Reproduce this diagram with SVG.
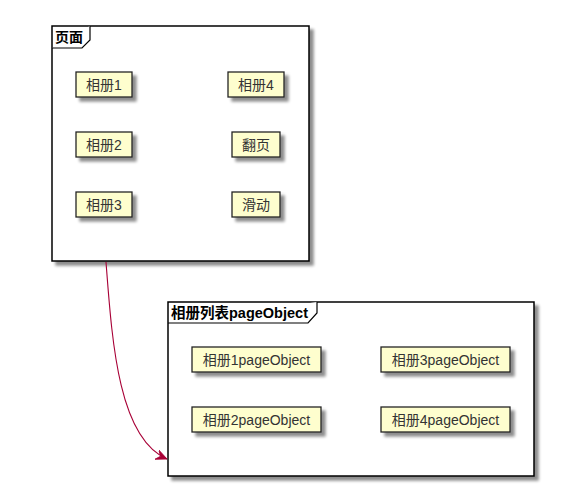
<svg xmlns="http://www.w3.org/2000/svg" width="572" height="498" viewBox="0 0 572 498">
<defs>
<filter id="sh" x="-10%" y="-10%" width="130%" height="140%">
<feGaussianBlur in="SourceAlpha" stdDeviation="1.6"/>
<feOffset dx="3.5" dy="3.5" result="b"/>
<feComponentTransfer><feFuncA type="linear" slope="0.45"/></feComponentTransfer>
<feMerge><feMergeNode/><feMergeNode in="SourceGraphic"/></feMerge>
</filter>
<marker id="arr" viewBox="0 0 12 10" refX="11" refY="5" markerWidth="12" markerHeight="10" markerUnits="userSpaceOnUse" orient="auto">
<path d="M0,0 L11,5 L0,10 L4,5 Z" fill="#A80036" stroke="#A80036" stroke-width="0.8"/>
</marker>
</defs>
<style>
.frame{fill:#ffffff;stroke:#000;stroke-width:1.5;}
.tab{fill:#ffffff;stroke:#000;stroke-width:1.2;}
.node{fill:#FEFECE;stroke:#222;stroke-width:1.3;}
.ttl{font-family:"Liberation Sans","Noto Sans CJK SC",sans-serif;font-size:14px;font-weight:bold;fill:#000;}
.lbl{font-family:"Liberation Sans","Noto Sans CJK SC",sans-serif;font-size:14px;fill:#333;text-anchor:middle;}
.edge{fill:none;stroke:#A80036;stroke-width:1.1;}
</style>
<rect width="572" height="498" fill="#ffffff"/>

<g id="frame-page">
<rect class="frame" x="52" y="26" width="257" height="235" filter="url(#sh)"/>
<path class="tab" d="M52,48 L82,48 L90,40 L90,26"/>
<text class="ttl" x="55" y="42">页面</text>
</g>

<g id="frame-list">
<rect class="frame" x="168" y="302" width="366" height="174" filter="url(#sh)"/>
<path class="tab" d="M168,323 L308,323 L317,313 L317,302"/>
<text class="ttl" x="171" y="318" style="font-size:14.5px">相册列表pageObject</text>
</g>

<g id="n-album1"><rect class="node" x="76" y="72" width="56" height="25" filter="url(#sh)"/><text class="lbl" x="104" y="89.5">相册1</text></g>
<g id="n-album4"><rect class="node" x="228" y="72" width="56" height="25" filter="url(#sh)"/><text class="lbl" x="256" y="89.5">相册4</text></g>
<g id="n-album2"><rect class="node" x="76" y="132" width="56" height="25" filter="url(#sh)"/><text class="lbl" x="104" y="149.5">相册2</text></g>
<g id="n-flip"><rect class="node" x="232" y="132" width="48" height="25" filter="url(#sh)"/><text class="lbl" x="256" y="149.5">翻页</text></g>
<g id="n-album3"><rect class="node" x="76" y="192" width="56" height="25" filter="url(#sh)"/><text class="lbl" x="104" y="209.5">相册3</text></g>
<g id="n-slide"><rect class="node" x="232" y="192" width="48" height="25" filter="url(#sh)"/><text class="lbl" x="256" y="209.5">滑动</text></g>

<g id="n-po1"><rect class="node" x="192" y="347" width="129" height="25" filter="url(#sh)"/><text class="lbl" x="256.5" y="364.5">相册1pageObject</text></g>
<g id="n-po3"><rect class="node" x="381" y="347" width="129" height="25" filter="url(#sh)"/><text class="lbl" x="445.5" y="364.5">相册3pageObject</text></g>
<g id="n-po2"><rect class="node" x="192" y="407" width="129" height="25" filter="url(#sh)"/><text class="lbl" x="256.5" y="424.5">相册2pageObject</text></g>
<g id="n-po4"><rect class="node" x="381" y="407" width="129" height="25" filter="url(#sh)"/><text class="lbl" x="445.5" y="424.5">相册4pageObject</text></g>

<g id="connectors">
<path class="edge" d="M106,262 C112,340 118,438 167,459" marker-end="url(#arr)"/>
</g>
</svg>
